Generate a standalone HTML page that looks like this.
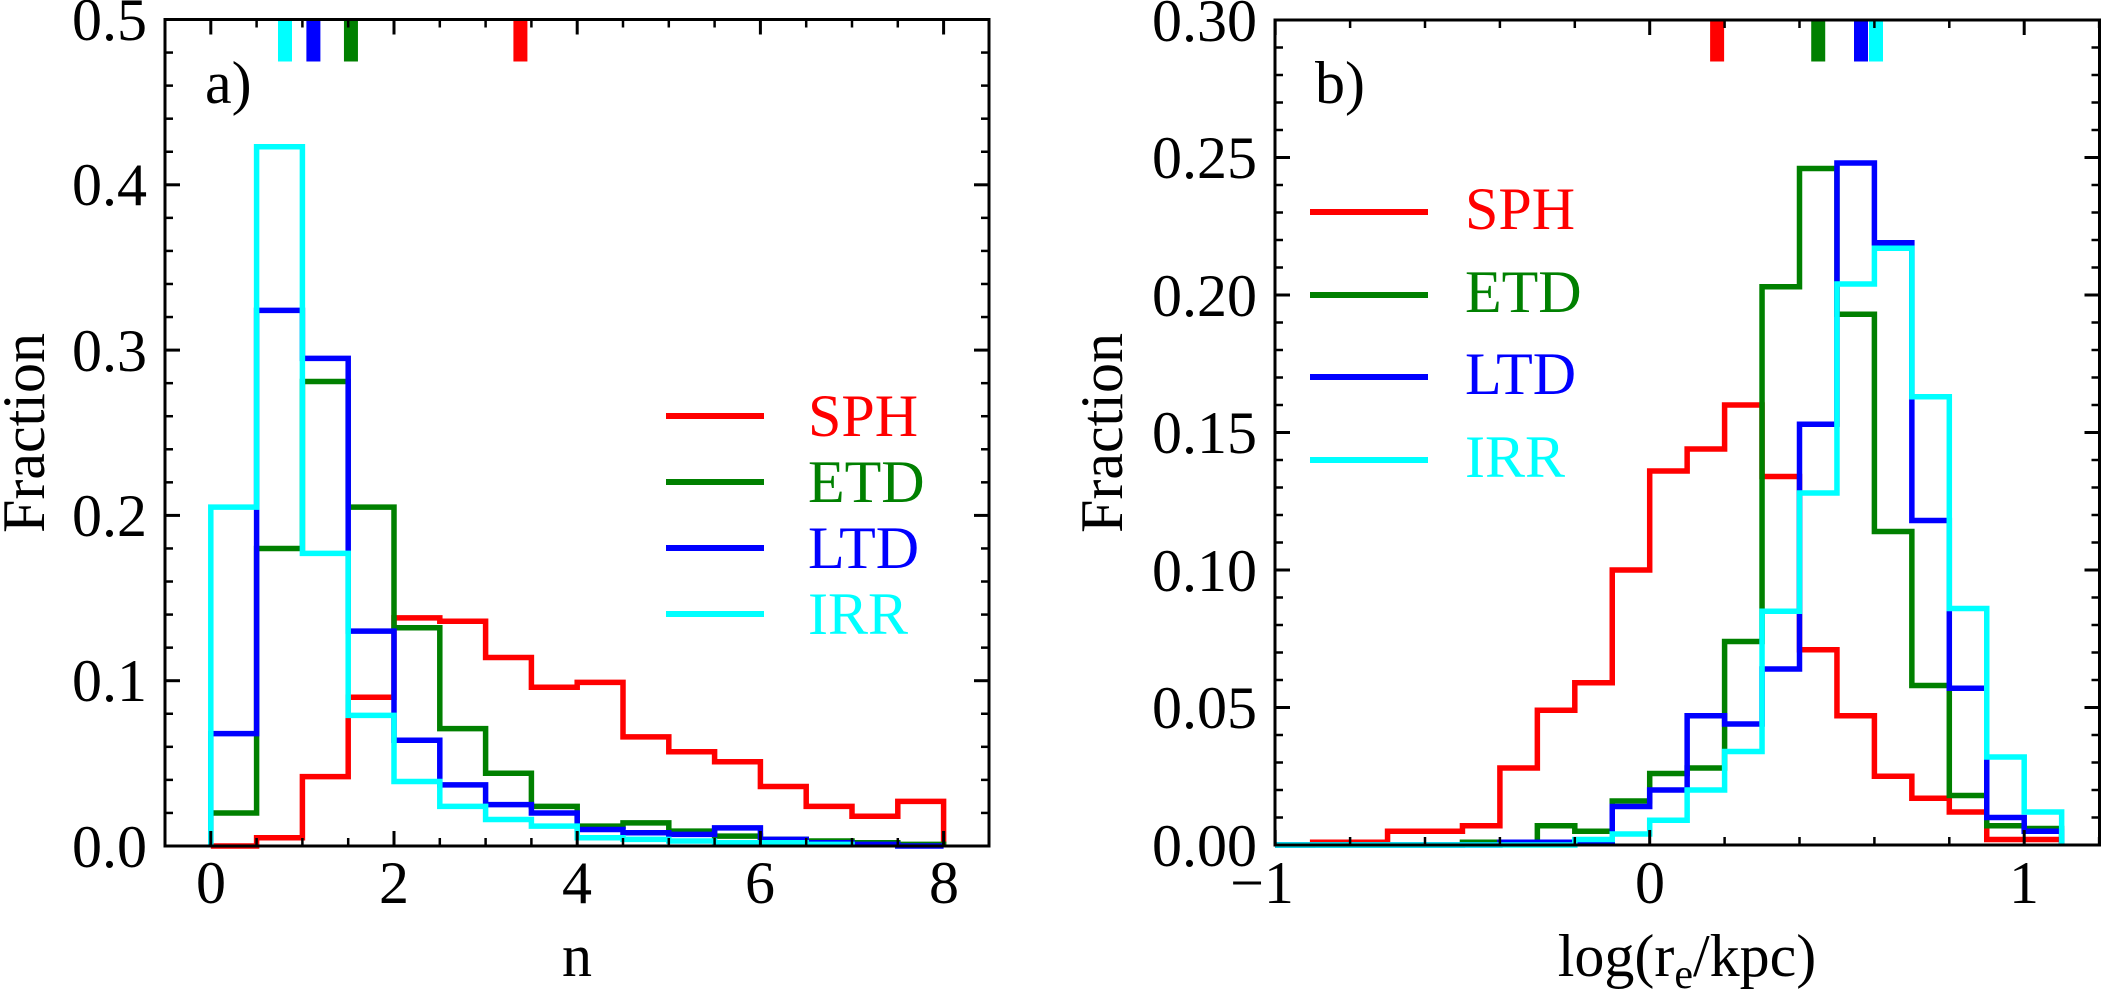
<!DOCTYPE html>
<html><head><meta charset="utf-8"><style>
html,body{margin:0;padding:0;background:#fff;}
svg{display:block;}
text{font-family:"Liberation Serif","DejaVu Serif",serif;font-size:60px;fill:#000;}
</style></head><body>
<svg id="s" width="2102" height="992" viewBox="0 0 2102 992" xmlns="http://www.w3.org/2000/svg">
<g id="plot"></g>
<!-- left panel labels -->
<g text-anchor="end">
<text x="147" y="867">0.0</text>
<text x="147" y="701">0.1</text>
<text x="147" y="536">0.2</text>
<text x="147" y="371">0.3</text>
<text x="147" y="205">0.4</text>
<text x="147" y="40">0.5</text>
<text x="1257" y="866">0.00</text>
<text x="1257" y="728">0.05</text>
<text x="1257" y="591">0.10</text>
<text x="1257" y="453">0.15</text>
<text x="1257" y="316">0.20</text>
<text x="1257" y="178">0.25</text>
<text x="1257" y="41">0.30</text>
</g>
<g text-anchor="middle">
<text x="211" y="903">0</text>
<text x="394" y="903">2</text>
<text x="577" y="903">4</text>
<text x="760" y="903">6</text>
<text x="944" y="903">8</text>
<text x="1262" y="903">−1</text>
<text x="1650" y="903">0</text>
<text x="2024" y="903">1</text>
<text x="577" y="976">n</text>
<text x="1687" y="976">log(r<tspan font-size="42" dy="12">e</tspan><tspan dy="-12">/kpc)</tspan></text>
</g>
<text transform="translate(44,433) rotate(-90)" text-anchor="middle">Fraction</text>
<text transform="translate(1122,433) rotate(-90)" text-anchor="middle">Fraction</text>
<text x="205" y="103">a)</text>
<text x="1315" y="103">b)</text>
<!-- legends -->
<g stroke-width="6">
<line x1="666" y1="416" x2="764" y2="416" stroke="#ff0000"/>
<line x1="666" y1="482" x2="764" y2="482" stroke="#008000"/>
<line x1="666" y1="548" x2="764" y2="548" stroke="#0000ff"/>
<line x1="666" y1="614" x2="764" y2="614" stroke="#00ffff"/>
<line x1="1310" y1="212" x2="1428" y2="212" stroke="#ff0000"/>
<line x1="1310" y1="295" x2="1428" y2="295" stroke="#008000"/>
<line x1="1310" y1="377" x2="1428" y2="377" stroke="#0000ff"/>
<line x1="1310" y1="460" x2="1428" y2="460" stroke="#00ffff"/>
</g>
<text x="808" y="436" fill="#ff0000" style="fill:#ff0000">SPH</text>
<text x="808" y="502" style="fill:#008000">ETD</text>
<text x="808" y="568" style="fill:#0000ff">LTD</text>
<text x="808" y="634" style="fill:#00ffff">IRR</text>
<text x="1465" y="229" style="fill:#ff0000">SPH</text>
<text x="1465" y="312" style="fill:#008000">ETD</text>
<text x="1465" y="394" style="fill:#0000ff">LTD</text>
<text x="1465" y="477" style="fill:#00ffff">IRR</text>
</svg>
<script>
(function(){
var g=document.getElementById('plot');var NS='http://www.w3.org/2000/svg';
function el(t,a){var e=document.createElementNS(NS,t);for(var k in a)e.setAttribute(k,a[k]);g.appendChild(e);return e;}
var cols=['#ff0000','#008000','#0000ff','#00ffff'];
function hist(X,Y,x0,w,vals,col){
 var d='M'+X(x0)+','+Y(0);
 for(var i=0;i<vals.length;i++){var a=X(x0+i*w),b=X(x0+(i+1)*w),y=Y(vals[i]);d+=' L'+a+','+y+' L'+b+','+y;}
 d+=' L'+X(x0+vals.length*w)+','+Y(0);
 el('path',{d:d,fill:'none',stroke:col,'stroke-width':5.5,'stroke-linejoin':'miter'});
}
// left
var LX=function(x){return 210.8+91.6*x},LY=function(v){return 846-1653*v};
var L=[
[0,0.005,0.042,0.09,0.138,0.136,0.114,0.096,0.099,0.066,0.057,0.051,0.036,0.024,0.018,0.027],
[0.02,0.18,0.281,0.205,0.132,0.071,0.044,0.024,0.012,0.014,0.009,0.006,0.004,0.003,0.002,0.001],
[0.068,0.324,0.295,0.13,0.064,0.037,0.025,0.02,0.01,0.008,0.007,0.011,0.004,0.002,0.001,0],
[0.205,0.423,0.177,0.079,0.039,0.024,0.016,0.012,0.005,0.004,0.003,0.002,0.002,0.001]];
for(var i=0;i<4;i++)hist(LX,LY,0,0.5,L[i],cols[i]);
var RX=function(x){return 1649.7+374.5*x},RY=function(v){return 845-2750*v};
var R=[
[0,0.001,0.001,0.005,0.005,0.007,0.028,0.049,0.059,0.100,0.136,0.144,0.160,0.134,0.071,0.047,0.025,0.017,0.012,0.002,0.002],
[0,0,0,0,0,0.001,0.001,0.007,0.005,0.016,0.026,0.028,0.074,0.203,0.246,0.193,0.114,0.058,0.018,0.007,0.006],
[0,0,0,0,0,0,0.001,0.001,0.001,0.014,0.020,0.047,0.044,0.064,0.153,0.248,0.219,0.118,0.057,0.010,0.005],
[0,0,0,0,0,0,0,0,0.002,0.004,0.009,0.020,0.034,0.085,0.128,0.204,0.217,0.163,0.086,0.032,0.012]];
for(var i=0;i<4;i++)hist(RX,RY,-1,0.1,R[i],cols[i]);
// median markers
function mk(x,col){el('rect',{x:x-7,y:19.5,width:14,height:42,fill:col});}
mk(LX(0.81),cols[3]);mk(LX(1.12),cols[2]);mk(LX(1.53),cols[1]);mk(LX(3.38),cols[0]);
mk(RX(0.18),cols[0]);mk(RX(0.45),cols[1]);mk(1861,cols[2]);mk(1876,cols[3]);
// axes + ticks
function axes(x1,x2,y1,y2,xt,xm,yt,ym){
 el('rect',{x:x1,y:y1,width:x2-x1,height:y2-y1,fill:'none',stroke:'#000','stroke-width':3});
 xt.forEach(function(x){el('line',{x1:x,x2:x,y1:y2,y2:y2-15,stroke:'#000','stroke-width':3});el('line',{x1:x,x2:x,y1:y1,y2:y1+15,stroke:'#000','stroke-width':3});});
 xm.forEach(function(x){el('line',{x1:x,x2:x,y1:y2,y2:y2-8,stroke:'#000','stroke-width':2.5});el('line',{x1:x,x2:x,y1:y1,y2:y1+8,stroke:'#000','stroke-width':2.5});});
 yt.forEach(function(y){el('line',{x1:x1,x2:x1+15,y1:y,y2:y,stroke:'#000','stroke-width':3});el('line',{x1:x2,x2:x2-15,y1:y,y2:y,stroke:'#000','stroke-width':3});});
 ym.forEach(function(y){el('line',{x1:x1,x2:x1+8,y1:y,y2:y,stroke:'#000','stroke-width':2.5});el('line',{x1:x2,x2:x2-8,y1:y,y2:y,stroke:'#000','stroke-width':2.5});});
}
var a=[],b=[],c=[],d=[],i;
for(i=0;i<=4;i++)a.push(LX(2*i));
for(i=0;i<=16;i++)if(i%4)b.push(LX(i*0.5));
for(i=0;i<=5;i++)c.push(LY(i*0.1));
for(i=0;i<=25;i++)if(i%5)d.push(LY(i*0.02));
axes(165,989,19.5,846,a,b,c,d);
a=[];b=[];c=[];d=[];
for(i=-1;i<=1;i++)a.push(RX(i));
for(i=-5;i<=6;i++)if(i%5)b.push(RX(i*0.2));
for(i=0;i<=6;i++)c.push(RY(i*0.05));
for(i=0;i<=30;i++)if(i%5)d.push(RY(i*0.01));
axes(1275,2099.5,20,845,a,b,c,d);
})();
</script>
</body></html>
